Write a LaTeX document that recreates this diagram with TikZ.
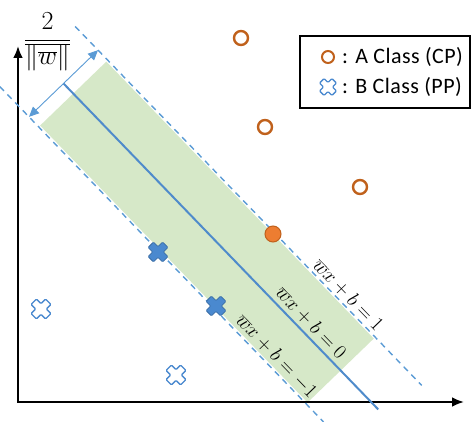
\RequirePackage{fix-cm}
\documentclass[tikz,border=0pt]{standalone}
\usepackage{fontspec}
\newfontfamily\legfont[LetterSpace=2]{Carlito}
\usetikzlibrary{arrows.meta}
\definecolor{svmblue}{HTML}{5B9BD5}
\definecolor{lineblue}{HTML}{4F8BCB}
\definecolor{bandgreen}{HTML}{D6E8C8}
\definecolor{ringorange}{HTML}{C0611C}
\definecolor{dotorange}{HTML}{ED7D31}
\definecolor{crossblue}{HTML}{4A89CF}
\definecolor{crossedge}{HTML}{3B6EA5}
\newcommand\crossshape{(3.8,10.3) -- (3.8,3.8) -- (10.3,3.8) -- (10.3,-3.8) -- (3.8,-3.8) -- (3.8,-10.3) -- (-3.8,-10.3) -- (-3.8,-3.8) -- (-10.3,-3.8) -- (-10.3,3.8) -- (-3.8,3.8) -- (-3.8,10.3) -- cycle}
\tikzset{
  axisline/.style={line width=2.6pt, {Latex[length=12pt,width=10pt]}-{Latex[length=12pt,width=10pt]}},
  marginline/.style={svmblue, line width=1.4pt, dash pattern=on 6pt off 5pt},
  hyperline/.style={lineblue, line width=2pt},
  dimarrow/.style={svmblue, line width=0.9pt, {Triangle[length=10pt,width=9pt]}-{Triangle[length=10pt,width=9pt]}},
  ring/.style={circle, draw=ringorange, line width=2.4pt, minimum size=14pt, inner sep=0pt},
  fdot/.style={circle, fill=dotorange, draw=ringorange, line width=1pt, minimum size=16pt, inner sep=0pt},
  eqlabel/.style={rotate=-46, font=\fontsize{20}{24}\selectfont, inner sep=0pt},
  legtext/.style={font=\legfont\fontsize{22}{26}\selectfont, anchor=west, inner sep=0pt},
  xfill/.pic={\filldraw[fill=crossblue, draw=crossedge, line width=0.8pt, rotate=45, rounded corners=1pt] \crossshape;},
  xopen/.pic={\filldraw[fill=white, draw=crossblue, line width=1.3pt, rotate=45, rounded corners=1pt] \crossshape;},
}
\begin{document}
\begin{tikzpicture}[x=1pt,y=1pt]
\useasboundingbox (0,0) rectangle (474,421);
% band scope
\begin{scope}[shift={(63.5,337.5)}, rotate=-46]
  \fill[bandgreen] (14,-46) rectangle (399,46);
\end{scope}
% axes
\coordinate (O) at (18,19);
\coordinate (ytip) at (18,375);
\coordinate (xtip) at (464,19);
\draw[axisline] (ytip) -- (O) -- (xtip);
\begin{scope}[shift={(63.5,337.5)}, rotate=-46]
  \coordinate (u1) at (-33,48);
  \coordinate (u2) at (466,48);
  \coordinate (l1) at (-42,-48);
  \coordinate (l2) at (424,-48);
  \coordinate (c1) at (0,0);
  \coordinate (c2) at (453,0);
  \coordinate (ua) at (0,48);
  \coordinate (la) at (0,-48);
  \draw[marginline] (u1) -- (u2);
  \draw[marginline] (l1) -- (l2);
  \draw[hyperline] (c1) -- (c2);
  \draw[dimarrow] (la) -- (ua);
  \node[eqlabel] (eq1) at (350,58) {$\overline{w}x+b=1$};
  \node[eqlabel] (eq0) at (344,12) {$\overline{w}x+b=0$};
  \node[eqlabel] (eqm) at (344,-36) {$\overline{w}x+b=-1$};
\end{scope}
% margin width label
\node[font=\fontsize{26}{30}\selectfont, inner sep=0pt] (wlabel) at (47.5,379) {$\displaystyle\frac{2}{\overline{\|\overline{w}\|}}$};
% class A points
\node[ring] (a1) at (241,383) {};
\node[ring] (a2) at (265,294) {};
\node[ring] (a3) at (360,234) {};
\node[fdot] (a4) at (273,187) {};
% class B points
\coordinate (b1) at (158,169);
\coordinate (b2) at (216,115);
\coordinate (b3) at (41,112);
\coordinate (b4) at (176,46);
\pic at (b1) {xfill};
\pic at (b2) {xfill};
\pic at (b3) {xopen};
\pic at (b4) {xopen};
% legend
\node[draw=black, line width=1.5pt, minimum width=170pt, minimum height=72pt, inner sep=0pt] (legend) at (385,349) {};
\node[ring, line width=2pt, minimum size=12pt] (legA) at (328,364) {};
\coordinate (legB) at (328,334);
\pic[scale=0.85] at (legB) {xopen};
\node[legtext] (legAt) at (342,364) {: A Class (CP)};
\node[legtext] (legBt) at (342,334) {: B Class (PP)};
\end{tikzpicture}
\end{document}
